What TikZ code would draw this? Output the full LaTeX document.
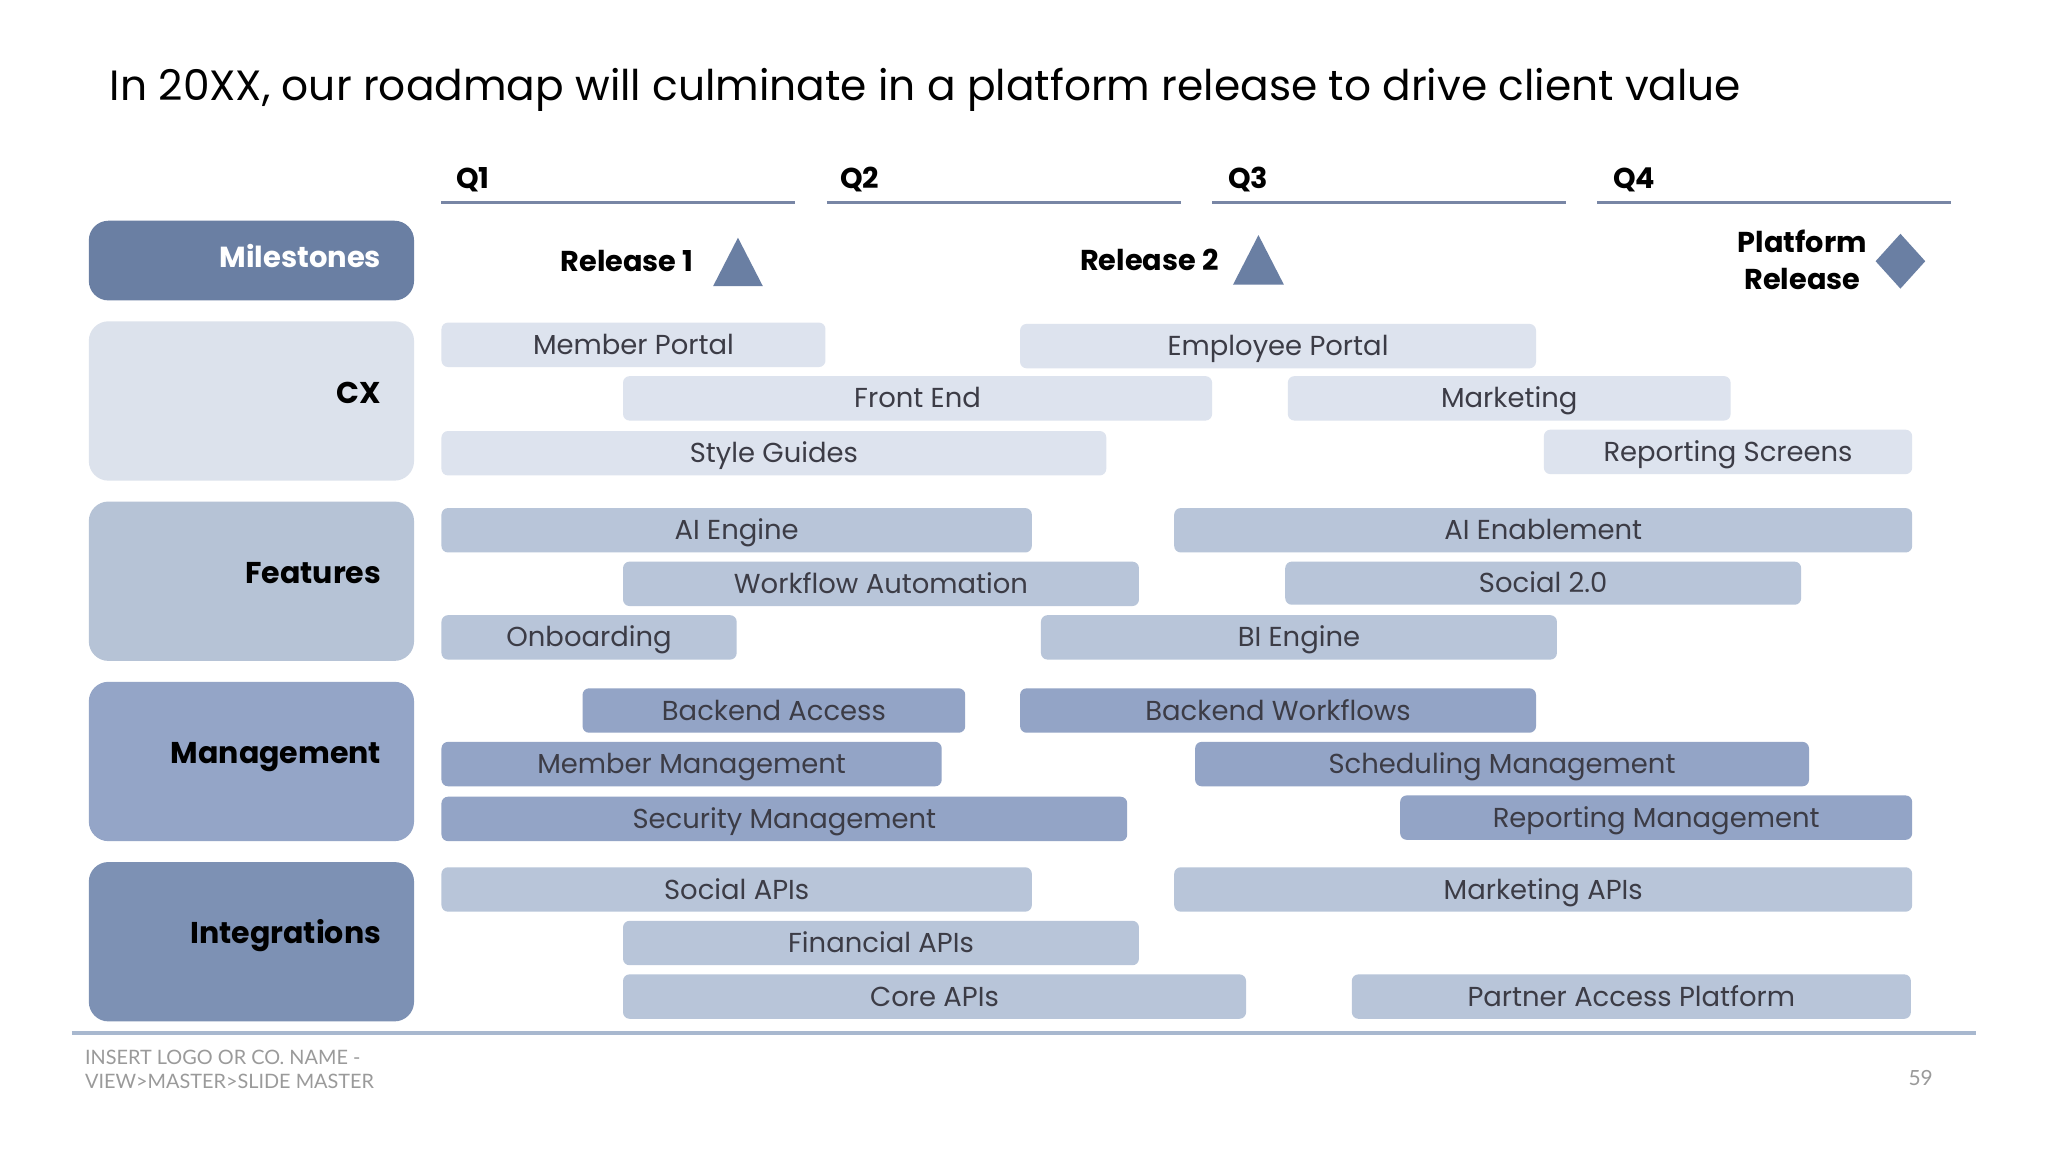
\documentclass[tikz,border=0pt]{standalone}
\usepackage{fontspec}
\setmainfont{Poppins}
\newfontfamily\footfont{Lato}
\definecolor{msblue}{HTML}{6A7FA3}
\definecolor{qline}{HTML}{7886A5}
\definecolor{cxbox}{HTML}{DCE2EC}
\definecolor{ftbox}{HTML}{B6C3D6}
\definecolor{mgbox}{HTML}{94A5C7}
\definecolor{inbox}{HTML}{7D91B4}
\definecolor{cxbar}{HTML}{DDE3EE}
\definecolor{ftbar}{HTML}{B8C5D9}
\definecolor{mgbar}{HTML}{93A4C6}
\definecolor{rule}{HTML}{A8B8CF}
\definecolor{bartext}{HTML}{3C3C46}
\definecolor{foot}{HTML}{9A9A9A}
\newcommand{\roadbar}[7]{%
  \node[roadbarstyle, fill=#7, minimum width={(#4)-(#2)}, minimum height={(#5)-(#3)}]
    (#1) at ({((#2)+(#4))/2},{((#3)+(#5))/2}) {#6};}
\begin{document}
\begin{tikzpicture}[x=1pt,y=-1pt,
  roadbarstyle/.style={draw=none, rounded corners=5pt, inner sep=0pt,
    text height=17pt, text depth=2.3pt,
    text=bartext, font=\fontsize{21}{25}\selectfont},
  catlabel/.style={anchor=mid east, inner sep=0pt, font=\bfseries\fontsize{23}{27}\selectfont},
  qhead/.style={anchor=base west, inner sep=0pt, font=\bfseries\fontsize{22}{26}\selectfont},
  qrule/.style={draw=qline, line width=2.5pt},
  mslabel/.style={inner sep=0pt, font=\bfseries\fontsize{22}{28}\selectfont, align=center},
  foottext/.style={anchor=base west, inner sep=0pt, text=foot, font=\footfont\fontsize{15.2}{18}\selectfont}]
\useasboundingbox[fill=white] (0,0) rectangle (1568,882);
% title
\node[anchor=base west, inner sep=0pt, font=\fontsize{32.4}{38}\selectfont] (title) at (84,77)
  {In 20XX, our roadmap will culminate in a platform release to drive client value};
% quarters
\node[qhead] (q1) at (349,144) {Q1};
\node[qhead] (q2) at (643,144) {Q2};
\node[qhead] (q3) at (940,144) {Q3};
\node[qhead] (q4) at (1235,144) {Q4};
\draw[qrule] (338,155) -- (609,155);
\draw[qrule] (633,155) -- (904,155);
\draw[qrule] (928,155) -- (1199,155);
\draw[qrule] (1223,155) -- (1494,155);
% category boxes
\fill[msblue, rounded corners=15pt] (68,169) rectangle (317,230);
\node[catlabel, text=white, font=\bfseries\fontsize{22.2}{27}\selectfont] (milestones) at (292,202) {Milestones};
\fill[cxbox, rounded corners=15pt] (68,246) rectangle (317,368);
\node[catlabel] (cx) at (292,306) {CX};
\fill[ftbox, rounded corners=15pt] (68,384) rectangle (317,506);
\node[catlabel] (features) at (292,444) {Features};
\fill[mgbox, rounded corners=15pt] (68,522) rectangle (317,644);
\node[catlabel] (management) at (292,582) {Management};
\fill[inbox, rounded corners=15pt] (68,660) rectangle (317,782);
\node[catlabel] (integrations) at (292,720) {Integrations};
% milestones
\node[mslabel, anchor=base] (rel1) at (480,208) {Release 1};
\fill[msblue] (546,219) -- (565,182) -- (584,219) -- cycle;
\node[mslabel, anchor=base] (rel2) at (880,207) {Release 2};
\fill[msblue] (944,218) -- (963.5,180) -- (983,218) -- cycle;
\node[mslabel, anchor=center] (plat) at (1380,199) {Platform\\Release};
\fill[msblue] (1455,179) -- (1474,200) -- (1455,221) -- (1436,200) -- cycle;
% CX bars
\roadbar{memberportal}{338}{247}{632}{281}{Member Portal}{cxbar}
\roadbar{employeeportal}{781}{248}{1176}{282}{Employee Portal}{cxbar}
\roadbar{frontend}{477}{288}{928}{322}{Front End}{cxbar}
\roadbar{marketing}{986}{288}{1325}{322}{Marketing}{cxbar}
\roadbar{styleguides}{338}{330}{847}{364}{Style Guides}{cxbar}
\roadbar{reportingscreens}{1182}{329}{1464}{363}{Reporting Screens}{cxbar}
% Features bars
\roadbar{aiengine}{338}{389}{790}{423}{AI Engine}{ftbar}
\roadbar{aienable}{899}{389}{1464}{423}{AI Enablement}{ftbar}
\roadbar{workflow}{477}{430}{872}{464}{Workflow Automation}{ftbar}
\roadbar{social}{984}{430}{1379}{463}{Social 2.0}{ftbar}
\roadbar{onboarding}{338}{471}{564}{505}{Onboarding}{ftbar}
\roadbar{biengine}{797}{471}{1192}{505}{BI Engine}{ftbar}
% Management bars
\roadbar{backendaccess}{446}{527}{739}{561}{Backend Access}{mgbar}
\roadbar{backendworkflows}{781}{527}{1176}{561}{Backend Workflows}{mgbar}
\roadbar{membermgmt}{338}{568}{721}{602}{Member Management}{mgbar}
\roadbar{schedmgmt}{915}{568}{1385}{602}{Scheduling Management}{mgbar}
\roadbar{securitymgmt}{338}{610}{863}{644}{Security Management}{mgbar}
\roadbar{reportmgmt}{1072}{609}{1464}{643}{Reporting Management}{mgbar}
% Integrations bars
\roadbar{socialapis}{338}{664}{790}{698}{Social APIs}{ftbar}
\roadbar{marketingapis}{899}{664}{1464}{698}{Marketing APIs}{ftbar}
\roadbar{financialapis}{477}{705}{872}{739}{Financial APIs}{ftbar}
\roadbar{coreapis}{477}{746}{954}{780}{Core APIs}{ftbar}
\roadbar{partner}{1035}{746}{1463}{780}{Partner Access Platform}{ftbar}
% bottom rule and footer
\draw[draw=rule, line width=3pt] (55,791) -- (1513,791);
\node[foottext] (footer1) at (65,815) {INSERT LOGO OR CO. NAME -};
\node[foottext] (footer2) at (65,833) {VIEW>MASTER>SLIDE MASTER};
\node[anchor=base east, inner sep=0pt, text=foot,
  font=\footfont\fontsize{16}{18}\selectfont] (pagenum) at (1480,831) {59};
\end{tikzpicture}
\end{document}
